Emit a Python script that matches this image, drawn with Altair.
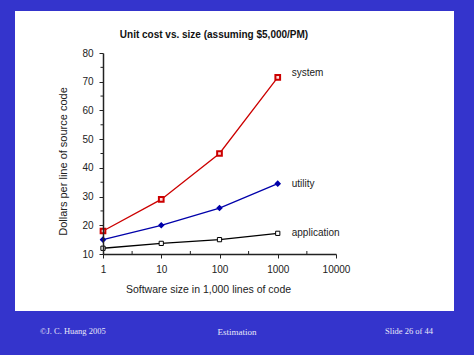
import altair as alt
import pandas as pd

# ---- data ----
sizes = [1, 10, 100, 1000]
system = [18, 29, 45, 71.5]
utility = [15, 20, 26, 34.5]
application = [12, 13.7, 15, 17.2]
series_names = ["system", "utility", "application"]
series_colors = ["#CC0000", "#0000AA", "#000000"]

x_ticks = [1, 10, 100, 1000, 10000]
x_minor = [3.16, 31.6, 316, 3162]
y_ticks = [10, 20, 30, 40, 50, 60, 70, 80]
y_minor = [15, 25, 35, 45, 55, 65, 75]

title_text = "Unit cost vs. size (assuming $5,000/PM)"
x_title = "Software size in 1,000 lines of code"
y_title = "Dollars per line of source code"
footer_left = "©J. C. Huang 2005"
footer_mid = "Estimation"
footer_right = "Slide 26 of 44"

rows = []
for name, vals in zip(series_names, [system, utility, application]):
    for s, v in zip(sizes, vals):
        rows.append({"x": s, "y": v, "series": name})
df = pd.DataFrame(rows)

W, H = 233, 201
BLUE = "#3434CC"

xscale = alt.Scale(type="log", domain=[1, 10000], nice=False)
yscale = alt.Scale(domain=[10, 80], nice=False, zero=False)
cscale = alt.Scale(domain=series_names, range=series_colors)

x_axis = alt.Axis(values=x_ticks, format="d", title=x_title, grid=False, zindex=1,
                  labelOverlap=False, labelFlush=False,
                  tickSize=4, tickColor="#222", domainColor="#222", domainWidth=1.5,
                  labelFontSize=10, labelFont="Liberation Sans", labelColor="#222",
                  labelPadding=6, titleFont="Liberation Sans", titleFontSize=10.5,
                  titleFontWeight="normal", titleColor="#222",
                  titleX=105, titleY=35, titleBaseline="middle")
y_axis = alt.Axis(values=y_ticks, title=y_title, grid=False, zindex=1,
                  labelOverlap=False, labelFlush=False,
                  tickSize=4, tickColor="#222", domainColor="#222", domainWidth=1.5,
                  labelFontSize=10, labelFont="Liberation Sans", labelColor="#222",
                  labelPadding=6, titleFont="Liberation Sans", titleFontSize=11,
                  titleFontWeight="normal", titleColor="#222",
                  titleX=-40, titleY=108, titleBaseline="middle")

one = pd.DataFrame({"k": [0]})

panel = alt.Chart(one).mark_rect(color="white").encode(
    x=alt.value(-88), x2=alt.value(351), y=alt.value(-42), y2=alt.value(258)
)

lines = alt.Chart(df).mark_line(strokeWidth=1.3).encode(
    x=alt.X("x:Q", scale=xscale, axis=x_axis),
    y=alt.Y("y:Q", scale=yscale, axis=y_axis),
    color=alt.Color("series:N", scale=cscale, legend=None),
)

points = alt.Chart(df).mark_point(filled=True, opacity=1).encode(
    x=alt.X("x:Q", scale=xscale, axis=x_axis),
    y=alt.Y("y:Q", scale=yscale, axis=y_axis),
    shape=alt.Shape("series:N", scale=alt.Scale(domain=series_names, range=["square", "diamond", "square"]), legend=None),
    stroke=alt.Stroke("series:N", scale=cscale, legend=None),
    fill=alt.Fill("series:N", scale=alt.Scale(domain=series_names, range=["#ffdddd", "#0000AA", "white"]), legend=None),
    size=alt.Size("series:N", scale=alt.Scale(domain=series_names, range=[22, 18, 24]), legend=None),
    strokeWidth=alt.StrokeWidth("series:N", scale=alt.Scale(domain=series_names, range=[2, 1, 1.2]), legend=None),
)

last = df[df["x"] == 1000]
label_base = alt.Chart(last).encode(
    x=alt.X("x:Q", scale=xscale, axis=x_axis),
    y=alt.Y("y:Q", scale=yscale, axis=y_axis),
    text="series:N",
)
lab_sys = label_base.transform_filter(alt.datum.series == "system").mark_text(
    align="left", baseline="middle", dx=14, dy=-4, fontSize=10, font="Liberation Sans", color="#222")
lab_other = label_base.transform_filter(alt.datum.series != "system").mark_text(
    align="left", baseline="middle", dx=14, dy=0, fontSize=10, font="Liberation Sans", color="#222")

ymin = alt.Chart(pd.DataFrame({"y": y_minor})).mark_rule(color="#222", strokeWidth=1).encode(
    y=alt.Y("y:Q", scale=yscale, axis=y_axis), x=alt.value(-2.5), x2=alt.value(0)
)
xmin = alt.Chart(pd.DataFrame({"x": x_minor})).mark_rule(color="#222", strokeWidth=1).encode(
    x=alt.X("x:Q", scale=xscale, axis=x_axis), y=alt.value(H - 3), y2=alt.value(H)
)

def txt(t, x, y, align, size=8.5, font="Liberation Serif", color="#E8E8F8", weight="normal"):
    return alt.Chart(one).mark_text(text=t, align=align, baseline="middle", fontSize=size,
                                    font=font, color=color, fontWeight=weight).encode(
        x=alt.value(x), y=alt.value(y))

title = txt(title_text, 111, -18, "center", size=10, font="Liberation Sans", color="#111", weight="bold")
f1 = txt(footer_left, -63, 278, "left")
f2 = txt(footer_mid, 134, 279, "center", size=9)
f3 = txt(footer_right, 330, 278, "right")

chart = alt.layer(panel, lines, ymin, xmin, points, lab_sys, lab_other, title, f1, f2, f3).properties(
    width=W, height=H,
    padding={"left": 103, "top": 53, "right": 138, "bottom": 101},
    autosize=alt.AutoSizeParams(type="none"),
    background=BLUE,
).configure_view(stroke=None)

chart.save("out.html", embed_options={"renderer": "svg", "actions": False})
